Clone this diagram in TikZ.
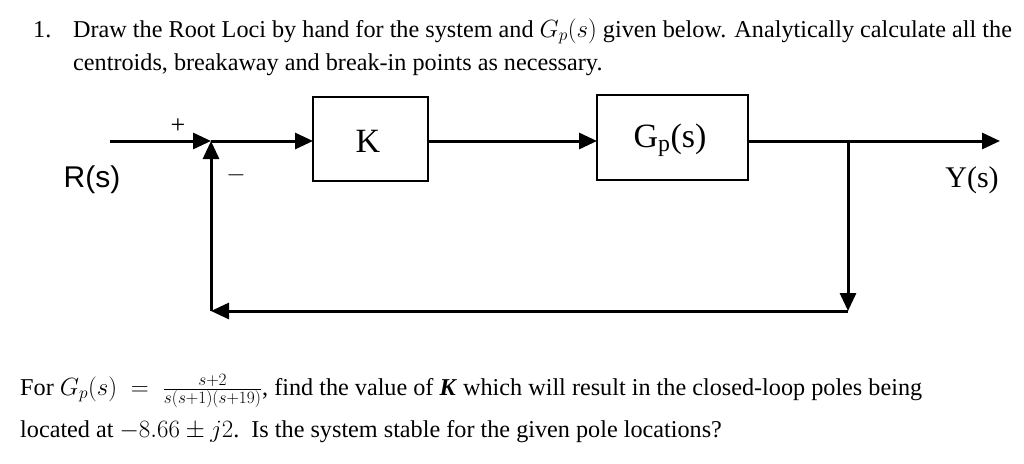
\documentclass[tikz,border=0pt]{standalone}
\usepackage{fontspec}
\setmainfont{Liberation Serif}
\newfontfamily\arialf{Liberation Sans}
\usetikzlibrary{arrows.meta}
\begin{document}
\begin{tikzpicture}[x=1pt,y=-1pt,
  blk/.style={draw,line width=2.2pt,minimum width=0pt},
  ln/.style={line width=3pt},
  arr/.style={ln,-{Triangle[length=18pt,width=16pt]}},
  txt/.style={inner sep=0pt,anchor=base west,font=\fontsize{24.2}{28}\selectfont}]
\useasboundingbox (0,0) rectangle (1024,463);
\node[txt] (n1) at (33,37) {1.};
\node[txt] (t1) at (73,37) {Draw the Root Loci by hand for the system and $G_p(s)$ given below. Analytically calculate all the};
\node[txt] (t2) at (73,70) {centroids, breakaway and break-in points as necessary.};
\draw[blk] (313,97) rectangle (428,181);
\node[font=\fontsize{34}{38}\selectfont] (K) at (368,141) {K};
\draw[blk] (597,95) rectangle (748,180);
\node[font=\fontsize{34}{38}\selectfont] (G) at (670,140) {G$_{\mathrm{p}}$(s)};
\coordinate (in) at (110,141);
\coordinate (sum) at (211,141);
\coordinate (kl) at (313,141);
\coordinate (kr) at (428,141);
\coordinate (gl) at (597,141);
\coordinate (gr) at (748,141);
\coordinate (br) at (848,141);
\coordinate (out) at (1000,141);
\coordinate (bd) at (848,311);
\coordinate (bl) at (211,311);
\draw[arr] (in) -- (sum);
\draw[arr] (sum) -- (kl);
\draw[arr] (kr) -- (gl);
\draw[ln] (gr) -- (br);
\draw[arr] (br) -- (out);
\draw[arr] (br) -- (bd);
\draw[arr] (bd) -- (bl);
\draw[arr] (bl) -- (sum);
\node[font=\fontsize{26}{30}\selectfont] (plus) at (178,126) {+};
\node[font=\fontsize{26}{30}\selectfont] (minus) at (236,175) {$-$};
\node[font=\arialf\fontsize{30}{34}\selectfont] (R) at (92,180) {R(s)};
\node[font=\fontsize{30}{34}\selectfont] (Y) at (972,180) {Y(s)};
\node[txt] (f1) at (20,395) {For $G_p(s)\;=\;\frac{s+2}{s(s+1)(s+19)}$, find the value of \textbf{\textit{K}} which will result in the closed-loop poles being};
\node[txt] (f2) at (20,437) {located at $-8.66 \pm j2$.\ \ Is the system stable for the given pole locations?};
\end{tikzpicture}
\end{document}
